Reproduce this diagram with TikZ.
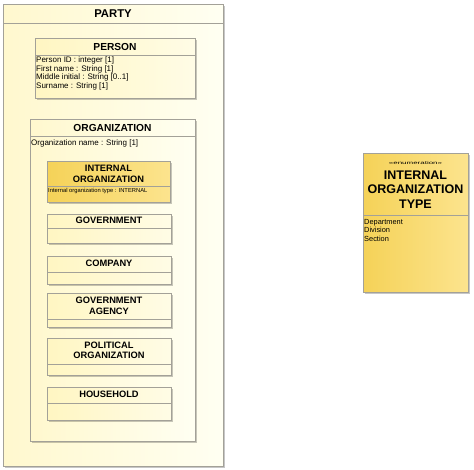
\documentclass[tikz,border=0pt]{standalone}
\usepackage{fontspec}
\setmainfont{Liberation Sans}
\usetikzlibrary{shadows}
\definecolor{edgec}{HTML}{A3A198}
\definecolor{partyL}{HTML}{FFF8CE}
\definecolor{partyR}{HTML}{FFFFF2}
\definecolor{boxL}{HTML}{FFF6C2}
\definecolor{boxR}{HTML}{FFFCE6}
\definecolor{goldL}{HTML}{F5D258}
\definecolor{goldR}{HTML}{FCE48E}
\begin{document}
\begin{tikzpicture}[x=1pt,y=-1pt,
  umlbox/.style={draw=edgec, line width=0.8pt, anchor=north west, inner sep=0pt,
    drop shadow={shadow xshift=1.2pt, shadow yshift=-1.2pt, fill=black, opacity=0.22}},
  pale/.style={umlbox, left color=partyL, right color=partyR},
  plain/.style={umlbox, left color=boxL, right color=boxR},
  gold/.style={umlbox, left color=goldL, right color=goldR},
  divline/.style={draw=edgec, line width=0.7pt},
  bigtitle/.style={font=\bfseries\fontsize{11.3}{13}\selectfont, inner sep=0pt},
  midtitle/.style={font=\bfseries\fontsize{10.2}{11}\selectfont, inner sep=0pt, align=center},
  subtitle/.style={font=\bfseries\fontsize{9.3}{10.6}\selectfont, inner sep=0pt, align=center},
  enumtitle/.style={font=\bfseries\fontsize{12.5}{14.4}\selectfont, inner sep=0pt, align=center},
  attr/.style={font=\fontsize{8}{8.4}\selectfont, inner sep=0pt, align=left, anchor=north west},
  tinyattr/.style={font=\fontsize{5.8}{6}\selectfont, inner sep=0pt, anchor=west},
]
\useasboundingbox (0,0) rectangle (474,469);

% PARTY
\node[pale, minimum width=220pt, minimum height=462pt] (party) at (3,4) {};
\draw[divline] (party.north west |- 0,23) -- (party.north east |- 0,23);
\node[bigtitle] (partyT) at (113,13.8) {PARTY};

% PERSON
\node[plain, minimum width=160pt, minimum height=60pt] (person) at (35,38) {};
\draw[divline] (person.north west |- 0,55) -- (person.north east |- 0,55);
\node[midtitle] (personT) at (115,46.8) {PERSON};
\node[attr] (personA) at (36,57) {Person ID : integer [1]\\First name : String [1]\\Middle initial : String [0..1]\\Surname : String [1]};

% ORGANIZATION
\node[pale, minimum width=165pt, minimum height=322pt] (org) at (30,119) {};
\draw[divline] (org.north west |- 0,136) -- (org.north east |- 0,136);
\node[midtitle] (orgT) at (112.5,127.8) {ORGANIZATION};
\node[attr] (orgA) at (31,139) {Organization name : String [1]};

% INTERNAL ORGANIZATION
\node[gold, minimum width=123pt, minimum height=41pt] (intorg) at (47,161) {};
\draw[divline] (intorg.north west |- 0,186) -- (intorg.north east |- 0,186);
\node[subtitle] (intorgT) at (108.5,173.6) {INTERNAL\\ORGANIZATION};
\node[tinyattr] (intorgA) at (48,190.5) {Internal organization type : INTERNAL};

% GOVERNMENT
\node[plain, minimum width=124pt, minimum height=29pt] (gov) at (47,214) {};
\draw[divline] (gov.north west |- 0,228) -- (gov.north east |- 0,228);
\node[subtitle] (govT) at (109,220.5) {GOVERNMENT};

% COMPANY
\node[plain, minimum width=124pt, minimum height=28pt] (comp) at (47,256) {};
\draw[divline] (comp.north west |- 0,272) -- (comp.north east |- 0,272);
\node[subtitle] (compT) at (109,263.5) {COMPANY};

% GOVERNMENT AGENCY
\node[plain, minimum width=124pt, minimum height=34pt] (agency) at (47,293) {};
\draw[divline] (agency.north west |- 0,319) -- (agency.north east |- 0,319);
\node[subtitle] (agencyT) at (109,305.6) {GOVERNMENT\\AGENCY};

% POLITICAL ORGANIZATION
\node[plain, minimum width=124pt, minimum height=37pt] (pol) at (47,338) {};
\draw[divline] (pol.north west |- 0,364) -- (pol.north east |- 0,364);
\node[subtitle] (polT) at (109,350.4) {POLITICAL\\ORGANIZATION};

% HOUSEHOLD
\node[plain, minimum width=124pt, minimum height=33pt] (house) at (47,387) {};
\draw[divline] (house.north west |- 0,403) -- (house.north east |- 0,403);
\node[subtitle] (houseT) at (109,394.5) {HOUSEHOLD};

% ENUMERATION
\node[gold, minimum width=105pt, minimum height=139pt] (enum) at (363,153) {};
\draw[divline] (enum.north west |- 0,215) -- (enum.north east |- 0,215);
\node[inner sep=0pt, font=\fontsize{4.2}{5}\selectfont] (enumS) at (415.5,162.5) {\scalebox{1.9}[1]{<<enumeration>>}};
\node[enumtitle] (enumT) at (415.5,189.5) {INTERNAL\\ORGANIZATION\\TYPE};
\node[attr, font=\fontsize{7.4}{8.4}\selectfont] (enumA) at (364,219) {Department\\Division\\Section};
\end{tikzpicture}
\end{document}
